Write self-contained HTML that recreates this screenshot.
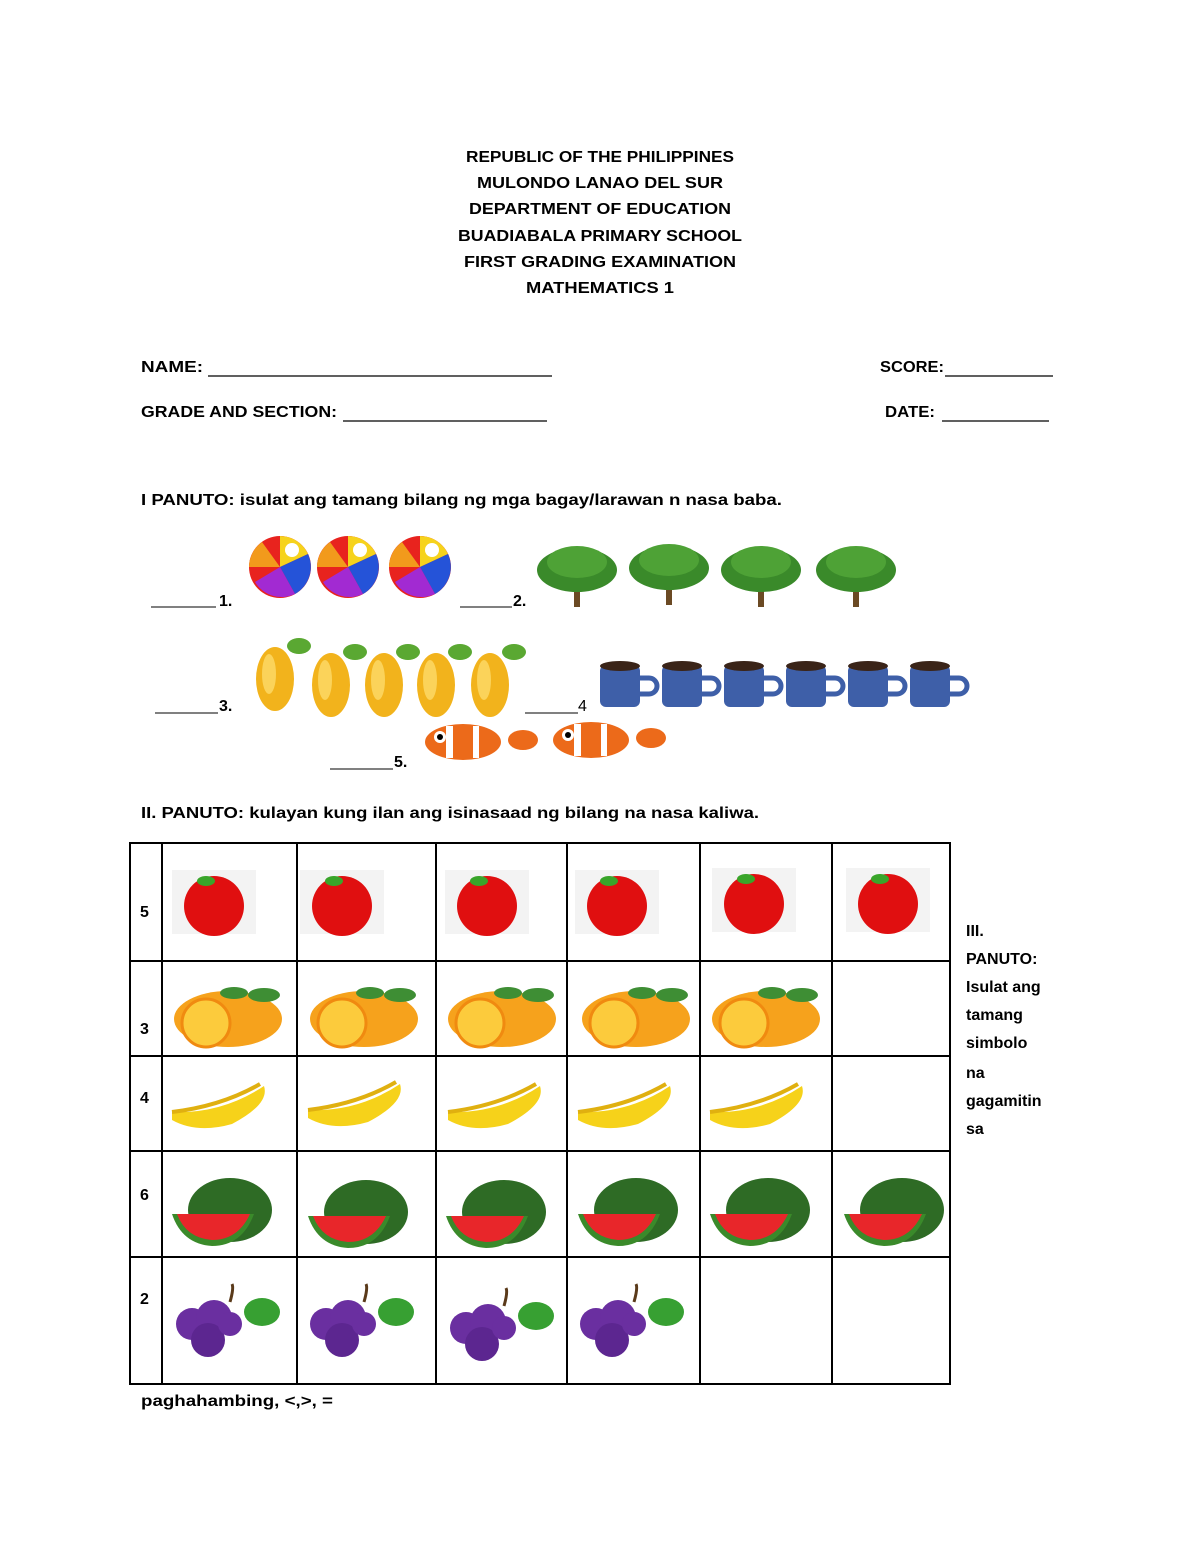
<!DOCTYPE html>
<html><head><meta charset="utf-8"><style>
html,body{margin:0;padding:0;background:#fff;}
svg{display:block;}
text{font-family:"Liberation Sans",sans-serif;font-weight:bold;font-size:16px;fill:#000;}
</style></head><body>
<svg width="1200" height="1553" viewBox="0 0 1200 1553" xmlns="http://www.w3.org/2000/svg">
<defs>
<g id="ball"><circle cx="30" cy="37" r="31" fill="#e8231e"/><path d="M30 37 L30 6 A31 31 0 0 1 58 24Z" fill="#f6d31c"/><path d="M30 37 L58 24 A31 31 0 0 1 45 64Z" fill="#2553d8"/><path d="M30 37 L45 64 A31 31 0 0 1 5 52Z" fill="#a22ad2"/><path d="M30 37 L-1 37 A31 31 0 0 1 12 12Z" fill="#f29a1c"/><circle cx="42" cy="20" r="7" fill="#fff"/></g>
<g id="tree"><rect x="38" y="40" width="6" height="27" fill="#6b4a24"/><ellipse cx="41" cy="30" rx="40" ry="22" fill="#3a8a2a"/><ellipse cx="41" cy="22" rx="30" ry="16" fill="#4ea236"/></g>
<g id="mango"><ellipse cx="20" cy="45" rx="19" ry="32" fill="#f2b31c"/><ellipse cx="14" cy="40" rx="7" ry="20" fill="#fbd35a"/><ellipse cx="44" cy="12" rx="12" ry="8" fill="#5aa832"/></g>
<g id="cup"><rect x="0" y="5" width="40" height="42" rx="6" fill="#3e5fa8"/><ellipse cx="20" cy="6" rx="20" ry="5" fill="#3a2418"/><path d="M39 18 h10 a8 8 0 0 1 0 16 h-10" fill="none" stroke="#3e5fa8" stroke-width="5"/></g>
<g id="fish"><ellipse cx="45" cy="22" rx="38" ry="18" fill="#ec6a1a"/><rect x="28" y="6" width="7" height="32" fill="#fff"/><rect x="55" y="6" width="6" height="32" fill="#fff"/><circle cx="22" cy="17" r="6" fill="#fff"/><circle cx="22" cy="17" r="3" fill="#000"/><ellipse cx="105" cy="20" rx="15" ry="10" fill="#ec6a1a"/></g>
<g id="apple"><rect x="0" y="0" width="84" height="64" fill="#f3f3f3"/><circle cx="42" cy="36" r="30" fill="#e00f10"/><ellipse cx="34" cy="11" rx="9" ry="5" fill="#39a52a"/></g>
<g id="orange"><ellipse cx="56" cy="34" rx="54" ry="28" fill="#f6a21c"/><circle cx="34" cy="38" r="24" fill="#fccb3c" stroke="#f08a10" stroke-width="3"/><ellipse cx="62" cy="8" rx="14" ry="6" fill="#3e8e34"/><ellipse cx="92" cy="10" rx="16" ry="7" fill="#3e8e34"/></g>
<g id="banana"><path d="M0 28 Q50 30 92 2 Q98 20 60 40 Q25 50 0 36Z" fill="#f6d21a"/><path d="M0 28 Q50 22 88 0" fill="none" stroke="#e0b010" stroke-width="4"/></g>
<g id="melon"><ellipse cx="58" cy="34" rx="42" ry="32" fill="#2e6b25"/><path d="M0 38 L82 38 Q70 70 40 70 Q10 68 0 38Z" fill="#3a8a2a"/><path d="M5 38 L78 38 Q66 64 40 64 Q14 62 5 38Z" fill="#e8262a"/></g>
<g id="grape"><circle cx="20" cy="40" r="16" fill="#6a2fa0"/><circle cx="42" cy="34" r="18" fill="#6a2fa0"/><circle cx="36" cy="56" r="17" fill="#5c2690"/><circle cx="58" cy="40" r="12" fill="#6a2fa0"/><ellipse cx="90" cy="28" rx="18" ry="14" fill="#37a032"/><path d="M58 18 Q62 4 60 0" stroke="#5a3a1a" stroke-width="3" fill="none"/></g>
</defs>

<g text-anchor="middle">
<text x="600" y="162" textLength="268" lengthAdjust="spacingAndGlyphs">REPUBLIC OF THE PHILIPPINES</text>
<text x="600" y="188" textLength="246" lengthAdjust="spacingAndGlyphs">MULONDO LANAO DEL SUR</text>
<text x="600" y="214" textLength="262" lengthAdjust="spacingAndGlyphs">DEPARTMENT OF EDUCATION</text>
<text x="600" y="241" textLength="284" lengthAdjust="spacingAndGlyphs">BUADIABALA PRIMARY SCHOOL</text>
<text x="600" y="267" textLength="272" lengthAdjust="spacingAndGlyphs">FIRST GRADING EXAMINATION</text>
<text x="600" y="293" textLength="148" lengthAdjust="spacingAndGlyphs">MATHEMATICS 1</text>
</g>
<text x="141" y="372" textLength="62" lengthAdjust="spacingAndGlyphs">NAME:</text>
<line x1="208" y1="376" x2="552" y2="376" stroke="#000" stroke-width="1.2"/>
<text x="880" y="372" textLength="64" lengthAdjust="spacingAndGlyphs">SCORE:</text>
<line x1="945" y1="376" x2="1053" y2="376" stroke="#000" stroke-width="1.2"/>
<text x="141" y="417" textLength="196" lengthAdjust="spacingAndGlyphs">GRADE AND SECTION:</text>
<line x1="343" y1="421" x2="547" y2="421" stroke="#000" stroke-width="1.2"/>
<text x="885" y="417" textLength="50" lengthAdjust="spacingAndGlyphs">DATE:</text>
<line x1="942" y1="421" x2="1049" y2="421" stroke="#000" stroke-width="1.2"/>

<text x="141" y="505" textLength="641" lengthAdjust="spacingAndGlyphs">I PANUTO: isulat ang tamang bilang ng mga bagay/larawan n nasa baba.</text>

<line x1="151" y1="607" x2="216" y2="607" stroke="#000"/><text x="219" y="606">1.</text>
<use href="#ball" x="250" y="530"/><use href="#ball" x="318" y="530"/><use href="#ball" x="390" y="530"/>
<line x1="460" y1="607" x2="512" y2="607" stroke="#000"/><text x="513" y="606">2.</text>
<use href="#tree" x="536" y="540"/><use href="#tree" x="628" y="538"/><use href="#tree" x="720" y="540"/><use href="#tree" x="815" y="540"/>

<line x1="155" y1="713" x2="218" y2="713" stroke="#000"/><text x="219" y="711">3.</text>
<use href="#mango" x="255" y="634"/><use href="#mango" x="311" y="640"/><use href="#mango" x="364" y="640"/><use href="#mango" x="416" y="640"/><use href="#mango" x="470" y="640"/>
<line x1="525" y1="713" x2="578" y2="713" stroke="#000"/><text x="578" y="711" style="font-weight:normal">4</text>
<use href="#cup" x="600" y="660"/><use href="#cup" x="662" y="660"/><use href="#cup" x="724" y="660"/><use href="#cup" x="786" y="660"/><use href="#cup" x="848" y="660"/><use href="#cup" x="910" y="660"/>

<line x1="330" y1="769" x2="393" y2="769" stroke="#000"/><text x="394" y="767">5.</text>
<use href="#fish" x="418" y="720"/><use href="#fish" x="546" y="718"/>

<text x="141" y="818" textLength="618" lengthAdjust="spacingAndGlyphs">II. PANUTO: kulayan kung ilan ang isinasaad ng bilang na nasa kaliwa.</text>

<g stroke="#000" stroke-width="2" fill="none">
<rect x="130" y="843" width="820" height="541"/>
<line x1="162" y1="843" x2="162" y2="1384"/><line x1="297" y1="843" x2="297" y2="1384"/>
<line x1="436" y1="843" x2="436" y2="1384"/><line x1="567" y1="843" x2="567" y2="1384"/>
<line x1="700" y1="843" x2="700" y2="1384"/><line x1="832" y1="843" x2="832" y2="1384"/>
<line x1="130" y1="961" x2="950" y2="961"/><line x1="130" y1="1056" x2="950" y2="1056"/>
<line x1="130" y1="1151" x2="950" y2="1151"/><line x1="130" y1="1257" x2="950" y2="1257"/>
</g>
<text x="140" y="917">5</text><text x="140" y="1034">3</text><text x="140" y="1103">4</text><text x="140" y="1200">6</text><text x="140" y="1304">2</text>

<use href="#apple" x="172" y="870"/><use href="#apple" x="300" y="870"/><use href="#apple" x="445" y="870"/><use href="#apple" x="575" y="870"/><use href="#apple" x="712" y="868"/><use href="#apple" x="846" y="868"/>
<use href="#orange" x="172" y="985"/><use href="#orange" x="308" y="985"/><use href="#orange" x="446" y="985"/><use href="#orange" x="580" y="985"/><use href="#orange" x="710" y="985"/>
<use href="#banana" x="172" y="1084"/><use href="#banana" x="308" y="1082"/><use href="#banana" x="448" y="1084"/><use href="#banana" x="578" y="1084"/><use href="#banana" x="710" y="1084"/>
<use href="#melon" x="172" y="1176"/><use href="#melon" x="308" y="1178"/><use href="#melon" x="446" y="1178"/><use href="#melon" x="578" y="1176"/><use href="#melon" x="710" y="1176"/><use href="#melon" x="844" y="1176"/>
<use href="#grape" x="172" y="1284"/><use href="#grape" x="306" y="1284"/><use href="#grape" x="446" y="1288"/><use href="#grape" x="576" y="1284"/>

<g>
<text x="966" y="936">III.</text>
<text x="966" y="964">PANUTO:</text>
<text x="966" y="992">Isulat ang</text>
<text x="966" y="1020">tamang</text>
<text x="966" y="1048">simbolo</text>
<text x="966" y="1078">na</text>
<text x="966" y="1106">gagamitin</text>
<text x="966" y="1134">sa</text>
</g>
<text x="141" y="1406" textLength="192" lengthAdjust="spacingAndGlyphs">paghahambing, &lt;,&gt;, =</text>
</svg>
</body></html>
